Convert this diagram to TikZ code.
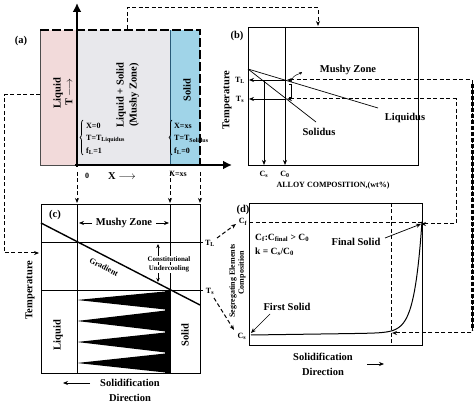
\documentclass[tikz,border=0pt]{standalone}
\usepackage{fontspec}
\setmainfont{Liberation Serif}
\usetikzlibrary{arrows.meta,decorations.pathreplacing}
\definecolor{pinkA}{RGB}{242,218,218}
\definecolor{grayA}{RGB}{232,232,236}
\definecolor{blueA}{RGB}{160,212,232}
\definecolor{blueB}{RGB}{40,90,120}
\begin{document}
\begin{tikzpicture}[x=1pt,y=-1pt,
  font=\bfseries\fontsize{10.5}{12}\selectfont,
  every node/.style={inner sep=0pt},
  mid/.style={font=\bfseries\fontsize{9.5}{11}\selectfont},
  small/.style={font=\bfseries\fontsize{8}{9}\selectfont},
  tiny/.style={font=\bfseries\fontsize{7}{8}\selectfont},
  dsh/.style={line width=1pt, dash pattern=on 4pt off 2.5pt},
  arr/.style={-{Stealth[length=5pt,width=4pt]}},
  barr/.style={dsh,{Stealth[length=5pt,width=4pt,open]}-{Stealth[length=5pt,width=4pt,open]}},
  thinline/.style={line width=0.7pt}]
\useasboundingbox (0,0) rectangle (474,403);

% ---------------- panel (a)
\fill[pinkA] (40,30) rectangle (77,165);
\fill[grayA] (77,30) rectangle (170,165);
\fill[blueA] (170,30) rectangle (200,165);
\draw[gray!60!black, line width=0.8pt] (40,165) -- (40,30);
\draw[gray!60!black, line width=0.8pt] (40,165) -- (77,165);
\draw[blueB, line width=1pt] (170,30) -- (170,165);
\draw[line width=1.6pt, dash pattern=on 9pt off 3pt] (40,30) -- (200,30) -- (200,165);
\draw[line width=2.8pt, -{Latex[length=9pt,width=9pt]}] (77,167) -- (77,3);
\draw[line width=2pt, -{Latex[length=9pt,width=9pt]}] (75,165) -- (232,165);
\node (la) at (21,41) {(a)};
\node[rotate=90] (liq) at (58,93) {Liquid};
\node[rotate=90] (tarr) at (69,92) {T $\longrightarrow$};
\node[rotate=90] (ls) at (121,95) {Liquid + Solid};
\node[rotate=90] (mz) at (134,95) {(Mushy Zone)};
\node[rotate=90] (sol) at (187,90) {Solid};
\draw[decorate, decoration={brace, amplitude=3pt}, thinline] (83,155) -- (83,120);
\node[small, anchor=west] (x0) at (86,126) {X=0};
\node[small, anchor=west] (tl) at (86,139) {T=T\textsubscript{Liquidus}};
\node[small, anchor=west] (f1) at (86,151) {f\textsubscript{L}=1};
\draw[decorate, decoration={brace, amplitude=3pt}, thinline] (172,155) -- (172,120);
\node[small, anchor=west] (xs) at (174,126) {X=xs};
\node[small, anchor=west] (ts) at (174,139) {T=T\textsubscript{Solidus}};
\node[small, anchor=west] (f0) at (174,151) {f\textsubscript{L}=0};
\node[small] (zero) at (87,176) {0};
\node (xl) at (122,176) {X $\longrightarrow$};
\node[small] (xxs) at (178,174) {X=xs};

% ---------------- panel (b)
\draw[thinline] (248,27) rectangle (418,165);
\coordinate (bTL) at (287,80);
\coordinate (bTs) at (287,99);
\draw[thinline,arr] (285,27) -- (285,165);
\draw[thinline,arr] (264,80) -- (264,165);
\draw[thinline,arr] (286,80) -- (249,80);
\draw[thinline,arr] (286,99) -- (249,99);
\draw[thinline] (248,69) -- (378,108);
\draw[thinline] (248,69) -- (316,122);
\draw[line width=0.5pt] (289,84) -- (291,84) -- (291,97) -- (289,97);
\draw[line width=0.5pt, -{Stealth[length=3pt,width=3pt]}] (291,82) .. controls (294,73) and (297,76) .. (302,72);
\node (bl) at (237,36) {(b)};
\node[rotate=90] (btemp) at (227,100) {Temperature};
\node[small] (bTLl) at (240,80) {T\textsubscript{L}};
\node[small] (bTsl) at (240,99) {T\textsubscript{s}};
\node (bmz) at (348,70) {Mushy Zone};
\node (bliq) at (405,118) {Liquidus};
\node (bsol) at (319,132) {Solidus};
\node[small] (bcs) at (264,174) {C\textsubscript{s}};
\node[small] (bc0) at (285,174) {C\textsubscript{0}};
\node[small] (balloy) at (333,186) {ALLOY COMPOSITION,(wt\%)};

% ---------------- panel (c)
\draw[thinline] (41,204) rectangle (200,373);
\draw[thinline] (77,204) -- (77,373);
\draw[thinline] (170,204) -- (170,373);
\draw[thinline] (41,242) -- (203,242);
\draw[thinline] (41,290) -- (203,290);
\fill[black] (77,300) -- (170,291) -- (170,310) -- cycle;
\fill[black] (77,321) -- (170,310) -- (170,332) -- cycle;
\fill[black] (77,342) -- (170,332) -- (170,353) -- cycle;
\fill[black] (77,363) -- (170,353) -- (170,373) -- cycle;
\fill[black] (165,291) rectangle (170,373);
\draw[line width=1.4pt] (41,223) -- (200,305);
\node (cl) at (55,215) {(c)};
\draw[thinline,arr] (92,223) -- (79,223);
\node (cmz) at (124,223) {Mushy Zone};
\draw[thinline,arr] (156,223) -- (169,223);
\draw[thinline,{Stealth[length=4pt,width=3.5pt]}-{Stealth[length=4pt,width=3.5pt]}] (158,244) -- (158,282);
\node[tiny, fill=white, inner sep=0.5pt] (cc1) at (169,259) {Constitutional};
\node[tiny, fill=white, inner sep=0.5pt] (cc2) at (169,269) {Undercooling};
\node[small, rotate=-27] (grad) at (104,267) {Gradient};
\node[rotate=90] (ctemp) at (30,290) {Temperature};
\node[rotate=90] (cliq) at (58,335) {Liquid};
\node[rotate=90] (csol) at (185,335) {Solid};
\node[small] (cTL) at (210,243) {T\textsubscript{L}};
\node[small] (cTs) at (210,291) {T\textsubscript{s}};
\draw[thinline,arr] (90,383) -- (63,383);
\node (csd1) at (130,383) {Solidification};
\node (csd2) at (130,398) {Direction};

% ---------------- panel (d)
\draw[thinline] (249,203) rectangle (422,345);
\draw[line width=1pt, dash pattern=on 4pt off 2.5pt] (249,223) -- (422,223);
\draw[line width=1pt, dash pattern=on 4pt off 2.5pt] (391,203) -- (391,345);
\draw[line width=1pt, domain=251:422, samples=120, smooth]
  plot (\x, {335 - 2*(\x-251)/140 - 111*exp((\x-422)/7.7)});
\coordinate (dCf) at (421,224);
\coordinate (dCs) at (392,333);
\node (dl) at (243,210) {(d)};
\node[small] (dCfl) at (243,222) {C\textsubscript{f}};
\node[small] (dCsl) at (242,336) {C\textsubscript{s}};
\node[mid, anchor=west] (dt1) at (255,238) {C\textsubscript{f}:C\textsubscript{final} > C\textsubscript{0}};
\node[mid, anchor=west] (dt2) at (255,252) {k = C\textsubscript{s}/C\textsubscript{0}};
\node (dfin) at (356,242) {Final Solid};
\draw[thinline,arr] (385,238) -- (dCf);
\node (dfirst) at (287,307) {First Solid};
\draw[thinline,arr] (270,314) -- (251,333);
\node[small, rotate=90] (dseg1) at (233,281) {Segregating Elements};
\node[small, rotate=90] (dseg2) at (242,273) {Composition};
\node (dsd1) at (323,357) {Solidification};
\node (dsd2) at (323,372) {Direction};
\draw[thinline,arr] (367,364) -- (384,364);

% ---------------- connectors
\draw[dsh,-{Stealth[length=5pt,width=4pt]}] (127,29) -- (127,8) -- (318,8) -- (318,26);
\draw[dsh,-{Stealth[length=5pt,width=4pt]}] (40,95) -- (4,95) -- (4,253) -- (39,253);
\draw[dsh,-{Stealth[length=5pt,width=4pt]}] (77,172) -- (77,203);
\draw[dsh,-{Stealth[length=5pt,width=4pt]}] (170,172) -- (170,203);
\draw[dsh,-{Stealth[length=5pt,width=4pt]}] (200,172) -- (200,203);
\draw[dsh,-{Stealth[length=5pt,width=4pt]}] (217,238) -- (236,224);
\draw[dsh,-{Stealth[length=5pt,width=4pt]}] (214,298) -- (234,330);
\draw[barr] (bTL) -- (472,80) -- (472,333) -- (dCs);
\draw[line width=3pt, dash pattern=on 4pt off 2pt] (472,84) -- (472,330);
\draw[barr] (bTs) -- (456,99) -- (456,224) -- (dCf);
\end{tikzpicture}
\end{document}
